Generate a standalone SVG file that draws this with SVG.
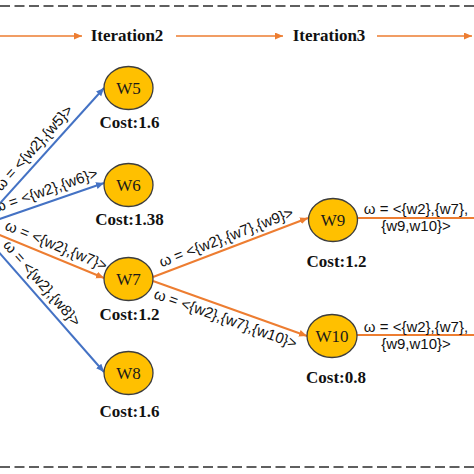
<svg xmlns="http://www.w3.org/2000/svg" width="474" height="474" viewBox="0 0 474 474">
<defs>
<marker id="ao" markerUnits="userSpaceOnUse" markerWidth="10" markerHeight="8" refX="8" refY="3.5" orient="auto"><path d="M0,0 L8,3.5 L0,7 z" fill="#ED7D31"/></marker>
<marker id="ab" markerUnits="userSpaceOnUse" markerWidth="10" markerHeight="8" refX="8" refY="3.5" orient="auto"><path d="M0,0 L8,3.5 L0,7 z" fill="#4472C4"/></marker>
<style>
.dash{stroke:#5f5f5f;stroke-width:2;stroke-dasharray:10 4.5;fill:none}
.it{stroke:#ED7D31;stroke-width:1.4;fill:none;marker-end:url(#ao)}
.o{stroke:#ED7D31;stroke-width:2;fill:none}
.oa{marker-end:url(#ao)}
.b{stroke:#4472C4;stroke-width:2;fill:none;marker-end:url(#ab)}
.node{fill:#FFC000;stroke:#3d3d3d;stroke-width:1.3}
.nt{font-family:"Liberation Serif","Times New Roman",serif;font-size:17px;fill:#1a1a1a;text-anchor:middle}
.ct{font-family:"Liberation Serif","Times New Roman",serif;font-size:17px;font-weight:bold;fill:#111;text-anchor:middle}
.hd{font-family:"Liberation Serif","Times New Roman",serif;font-size:17px;font-weight:bold;fill:#111;text-anchor:middle}
.lb{font-family:"Liberation Sans",Arial,sans-serif;font-size:15px;fill:#111}
.m{text-anchor:middle}
.e{text-anchor:end}
</style>
</defs>
<rect width="474" height="474" fill="#fff"/>
<g id="frame">
<line class="dash" x1="0" y1="6" x2="474" y2="6"/>
<line class="dash" x1="0" y1="467" x2="474" y2="467"/>
</g>
<g id="header">
<line class="it" x1="0" y1="36" x2="82" y2="36"/>
<text class="hd" x="127" y="41">Iteration2</text>
<line class="it" x1="176" y1="36" x2="283" y2="36"/>
<text class="hd" x="329" y="41">Iteration3</text>
<line class="it" x1="377" y1="36" x2="472" y2="36"/>
</g>
<g id="connectors">
<line class="b" x1="-15" y1="220" x2="104" y2="88"/>
<line class="b" x1="-15" y1="224" x2="104" y2="183"/>
<line class="o oa" x1="-15" y1="229" x2="104" y2="278"/>
<line class="b" x1="-10" y1="242" x2="104" y2="372"/>
<line class="o oa" x1="153" y1="277" x2="308" y2="218"/>
<line class="o oa" x1="153" y1="281" x2="307" y2="336"/>
<line class="o" x1="358" y1="218" x2="474" y2="218"/>
<line class="o" x1="357" y1="335" x2="474" y2="335"/>
<text class="lb e" transform="translate(79,115.5) rotate(-47.96)" y="-7">ω = &lt;{w2},{w5}&gt;</text>
<text class="lb e" transform="translate(101,184) rotate(-19)" y="-7">ω = &lt;{w2},{w6}&gt;</text>
<text class="lb e" transform="translate(102,277.2) rotate(22.4)" y="-7">ω = &lt;{w2},{w7}&gt;</text>
<text class="lb e" transform="translate(69,332) rotate(48.75)" y="-7">ω = &lt;{w2},{w8}&gt;</text>
<text class="lb m" transform="translate(230,247.5) rotate(-20.8)" y="-6">ω = &lt;{w2},{w7},{w9}&gt;</text>
<text class="lb m" transform="translate(229.2,308.2) rotate(19.65)" y="16">ω = &lt;{w2},{w7},{w10}&gt;</text>
<text class="lb m" x="416" y="213.5">ω = &lt;{w2},{w7},</text>
<text class="lb m" x="416" y="230.5">{w9,w10}&gt;</text>
<text class="lb m" x="416" y="331.5">ω = &lt;{w2},{w7},</text>
<text class="lb m" x="416" y="348.5">{w9,w10}&gt;</text>
</g>
<g id="W5"><ellipse class="node" cx="128.5" cy="88" rx="24.5" ry="21.5"/><text class="nt" x="128.5" y="94">W5</text><text class="ct" x="129.5" y="128">Cost:1.6</text></g>
<g id="W6"><ellipse class="node" cx="128.5" cy="185" rx="24.5" ry="21.5"/><text class="nt" x="128.5" y="191">W6</text><text class="ct" x="129.5" y="225">Cost:1.38</text></g>
<g id="W7"><ellipse class="node" cx="128.5" cy="279" rx="24.5" ry="21.5"/><text class="nt" x="128.5" y="285">W7</text><text class="ct" x="129.5" y="320">Cost:1.2</text></g>
<g id="W8"><ellipse class="node" cx="128.5" cy="373" rx="24.5" ry="21.5"/><text class="nt" x="128.5" y="379">W8</text><text class="ct" x="129.5" y="417">Cost:1.6</text></g>
<g id="W9"><ellipse class="node" cx="333" cy="220" rx="24.5" ry="21.5"/><text class="nt" x="333" y="226">W9</text><text class="ct" x="336.5" y="267">Cost:1.2</text></g>
<g id="W10"><ellipse class="node" cx="332" cy="336" rx="25" ry="21.5"/><text class="nt" x="332" y="342">W10</text><text class="ct" x="336" y="383">Cost:0.8</text></g>
</svg>
